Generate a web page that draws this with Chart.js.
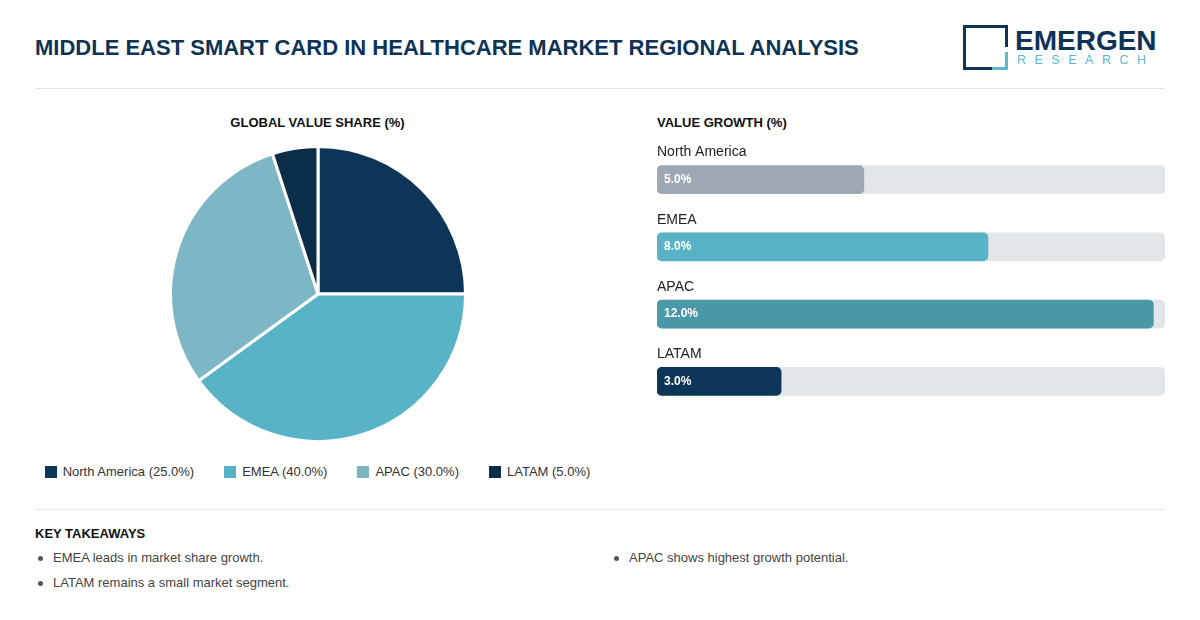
<!DOCTYPE html>
<html>
<head>
<meta charset="utf-8">
<script src="https://cdn.jsdelivr.net/npm/chart.js@4.4.1/dist/chart.umd.min.js"></script>
<style>
  html, body { margin: 0; padding: 0; background: #fff; }
  body { width: 1200px; height: 620px; position: relative; overflow: hidden; font-family: "Liberation Sans", Arial, sans-serif; }
  .title { position: absolute; left: 35px; top: 35px; font-size: 22px; font-weight: bold; color: #0d3457; }
  .logo { position: absolute; left: 963px; top: 25px; width: 200px; height: 48px; }
  .logo .box { position: absolute; left: 0; top: 0; width: 42px; height: 39px; border: 3px solid #0d3457; border-right: none; }
  .logo .rt { position: absolute; left: 42px; top: 0; width: 3px; height: 22px; background: #0d3457; }
  .logo .rb { position: absolute; left: 42px; top: 27px; width: 3px; height: 18px; background: #5cb8cc; }
  .logo .bb { position: absolute; left: 29px; top: 42px; width: 16px; height: 3px; background: #5cb8cc; }
  .logo .name { position: absolute; left: 52px; top: 0px; font-size: 28px; font-weight: bold; color: #0d3457; }
  .logo .sub { position: absolute; left: 54px; top: 28px; font-size: 12.5px; color: #5cb8cc; letter-spacing: 8.5px; }
  .rule { position: absolute; left: 35px; width: 1130px; height: 1px; background: #e3e5e8; }
  .h2 { position: absolute; font-size: 13px; font-weight: bold; color: #111; }
  #pieWrap { position: absolute; left: 169px; top: 145px; width: 298px; height: 298px; }
  #barWrap { position: absolute; left: 657px; top: 138px; width: 508px; height: 277px; }
  .legend { position: absolute; left: 35px; width: 565px; top: 464px; display: flex; justify-content: center; gap: 30px; font-size: 13px; color: #333; }
  .legend span.item { display: flex; align-items: center; }
  .legend i { display: inline-block; width: 12px; height: 12px; margin-right: 6px; }
  .take { position: absolute; font-size: 13px; color: #444; }
  .take::before { content: ""; position: absolute; left: -15px; top: 6px; width: 5px; height: 5px; border-radius: 50%; background: #555; }
</style>
</head>
<body>
<div class="title">MIDDLE EAST SMART CARD IN HEALTHCARE MARKET REGIONAL ANALYSIS</div>
<div class="logo">
  <div class="box"></div><div class="rt"></div><div class="rb"></div><div class="bb"></div>
  <div class="name">EMERGEN</div>
  <div class="sub">RESEARCH</div>
</div>
<div class="rule" style="top:88px"></div>

<div class="h2" style="left:35px;width:565px;text-align:center;top:115px">GLOBAL VALUE SHARE (%)</div>
<div id="pieWrap"><canvas id="pieChart"></canvas></div>
<div class="legend" id="legend"></div>

<div class="h2" style="left:657px;top:115px">VALUE GROWTH (%)</div>
<div id="barWrap"><canvas id="barChart"></canvas></div>

<div class="rule" style="top:509px"></div>
<div class="h2" style="left:35px;top:526px">KEY TAKEAWAYS</div>
<div id="takeaways"></div>

<script>
const regions = ['North America', 'EMEA', 'APAC', 'LATAM'];
const shareValues = [25, 40, 30, 5];
const shareColors = ['#0c3558', '#58b3c6', '#7db7c6', '#0b2d48'];
const growthValues = [5, 8, 12, 3];
const growthColors = ['#9ea8b3', '#58b3c6', '#4b98a8', '#0c3558'];
const growthMax = 12.28;
const takeaways = [
    'EMEA leads in market share growth.',
    'LATAM remains a small market segment.',
    'APAC shows highest growth potential.'
];

// legend below the pie
const legend = document.getElementById('legend');
regions.forEach((r, i) => {
    legend.insertAdjacentHTML('beforeend',
        `<span class="item"><i style="background:${shareColors[i]}"></i>${r} (${shareValues[i].toFixed(1)}%)</span>`);
});

// takeaways in two columns
const takePos = [[53, 550], [53, 575], [629, 550]];
const takeBox = document.getElementById('takeaways');
takeaways.forEach((t, i) => {
    takeBox.insertAdjacentHTML('beforeend',
        `<div class="take" style="left:${takePos[i][0]}px;top:${takePos[i][1]}px">${t}</div>`);
});

new Chart(document.getElementById('pieChart'), {
    type: 'pie',
    data: {
        labels: regions,
        datasets: [{
            data: shareValues,
            backgroundColor: shareColors,
            borderColor: '#ffffff',
            borderWidth: 3
        }]
    },
    options: {
        responsive: true,
        maintainAspectRatio: false,
        animation: false,
        layout: { padding: 0 },
        plugins: { legend: { display: false }, tooltip: { enabled: false } }
    }
});

// labels above bars and values inside them
const barText = {
    id: 'barText',
    afterDatasetsDraw(chart) {
        const ctx = chart.ctx;
        const meta = chart.getDatasetMeta(0);
        ctx.save();
        meta.data.forEach((bar, i) => {
            const top = bar.y - bar.height / 2;
            ctx.font = '14px "Liberation Sans", Arial, sans-serif';
            ctx.fillStyle = '#222';
            ctx.textAlign = 'left';
            ctx.textBaseline = 'middle';
            ctx.fillText(regions[i], chart.chartArea.left, top - 13);
            ctx.font = 'bold 12px "Liberation Sans", Arial, sans-serif';
            ctx.fillStyle = '#ffffff';
            ctx.fillText(growthValues[i].toFixed(1) + '%', chart.chartArea.left + 7, bar.y);
        });
        ctx.restore();
    }
};

new Chart(document.getElementById('barChart'), {
    type: 'bar',
    data: {
        labels: regions,
        datasets: [{
            data: growthValues,
            backgroundColor: growthColors,
            borderRadius: 5,
            borderSkipped: false,
            barThickness: 28,
            grouped: false
        }, {
            data: regions.map(() => growthMax),
            backgroundColor: '#e2e6e9',
            borderRadius: 5,
            borderSkipped: false,
            barThickness: 28,
            grouped: false
        }]
    },
    options: {
        indexAxis: 'y',
        responsive: true,
        maintainAspectRatio: false,
        animation: false,
        layout: { padding: { top: 8, bottom: 0, left: 0, right: 0 } },
        scales: {
            x: { display: false, min: 0, max: growthMax },
            y: { display: false }
        },
        plugins: { legend: { display: false }, tooltip: { enabled: false } }
    },
    plugins: [barText]
});
</script>
</body>
</html>
